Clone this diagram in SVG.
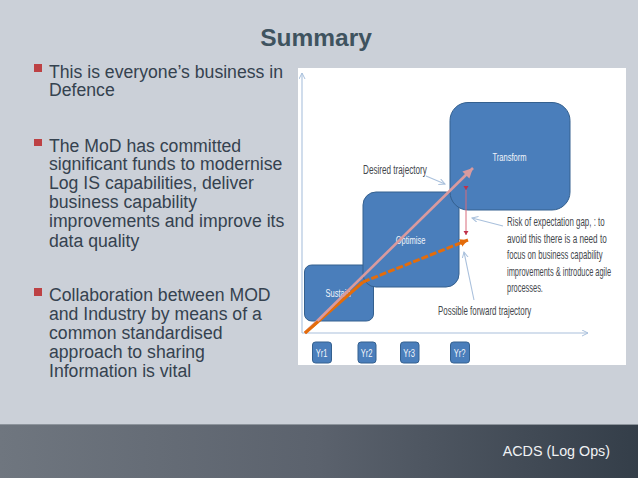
<svg xmlns="http://www.w3.org/2000/svg" width="638" height="478" viewBox="0 0 638 478">
<style>
.b{font:17.65px "Liberation Sans",Arial,sans-serif;fill:#35424f}
.t{font:24.5px "Liberation Sans",Arial,sans-serif;font-weight:bold;fill:#3f535f}
.n{fill:#4a7ebb;stroke:#34608f;stroke-width:1}
.w{font:10.5px "Liberation Sans",Arial,sans-serif;fill:#f2f5fa;text-anchor:middle}
.l{font:12px "Liberation Sans",Arial,sans-serif;fill:#44474c}
.s{fill:#bd4144}
.thin{stroke:#a9c0dc;stroke-width:1.1;fill:none}
</style>
<defs>
<linearGradient id="f" x1="0" x2="1" y1="0" y2="0"><stop offset="0" stop-color="#6f767f"/><stop offset=".5" stop-color="#5b626d"/><stop offset="1" stop-color="#343e49"/></linearGradient>
<marker id="ta" markerWidth="7" markerHeight="7" refX="6" refY="3" orient="auto" markerUnits="userSpaceOnUse"><path d="M0 0L6 3L0 6" fill="none" stroke="#a9c0dc" stroke-width="1"/></marker>
<marker id="pa" markerWidth="12" markerHeight="12" refX="10" refY="5" orient="auto" markerUnits="userSpaceOnUse"><path d="M0 0L10 5L0 10Z" fill="#d99a9e"/></marker>
<marker id="oa" markerWidth="10" markerHeight="10" refX="8" refY="4" orient="auto" markerUnits="userSpaceOnUse"><path d="M0 0L8 4L0 8Z" fill="#e46c0a"/></marker>
<marker id="ra" markerWidth="6" markerHeight="6" refX="4" refY="2.5" orient="auto" markerUnits="userSpaceOnUse"><path d="M0 0L4 2.5L0 5Z" fill="#c0304a"/></marker>
</defs>
<rect width="638" height="478" fill="#cbd0d8"/>
<rect y="424" width="638" height="54" fill="url(#f)"/>
<rect y="424" width="638" height="1" fill="#8d949c"/>
<text class="t" x="316" y="46" text-anchor="middle">Summary</text>
<rect class="s" x="34" y="64" width="8" height="8"/>
<rect class="s" x="34" y="139" width="8" height="7"/>
<rect class="s" x="34" y="288" width="8" height="8"/>
<text class="b"><tspan x="49" y="78">This is everyone’s business in</tspan><tspan x="49" y="96">Defence</tspan>
<tspan x="49" y="152">The MoD has committed</tspan><tspan x="49" y="170">significant funds to modernise</tspan><tspan x="49" y="189">Log IS capabilities, deliver</tspan><tspan x="49" y="208">business capability</tspan><tspan x="49" y="227">improvements and improve its</tspan><tspan x="49" y="247">data quality</tspan>
<tspan x="49" y="301">Collaboration between MOD</tspan><tspan x="49" y="320">and Industry by means of a</tspan><tspan x="49" y="339">common standardised</tspan><tspan x="49" y="358">approach to sharing</tspan><tspan x="49" y="377">Information is vital</tspan></text>
<text x="610" y="456" text-anchor="end" style="font:14.3px 'Liberation Sans',Arial,sans-serif;fill:#f0f2f4">ACDS (Log Ops)</text>
<rect x="298" y="68" width="328" height="297" fill="#fff"/>
<g id="sustain"><rect class="n" x="304.500" y="265" width="69" height="56" rx="7"/><text class="w" transform="translate(338 297) scale(.72 1)">Sustain</text></g>
<g id="optimise"><rect class="n" x="363" y="192" width="96" height="95" rx="13"/><text class="w" transform="translate(410.500 244) scale(.72 1)">Optimise</text></g>
<g id="transform"><rect class="n" x="450" y="102.500" width="120" height="107.500" rx="18"/><text class="w" transform="translate(509.500 161) scale(.72 1)">Transform</text></g>
<g id="yr1"><rect class="n" x="312.500" y="342" width="19" height="21" rx="3"/><text class="w" transform="translate(321.500 357) scale(.72 1)">Yr1</text></g>
<g id="yr2"><rect class="n" x="358" y="342" width="18" height="21" rx="3"/><text class="w" transform="translate(366.500 357) scale(.72 1)">Yr2</text></g>
<g id="yr3"><rect class="n" x="400.500" y="342" width="18.500" height="21" rx="3"/><text class="w" transform="translate(409 357) scale(.72 1)">Yr3</text></g>
<g id="yrq"><rect class="n" x="450.500" y="342" width="19" height="21" rx="3"/><text class="w" transform="translate(459.500 357) scale(.72 1)">Yr?</text></g>
<g id="connectors">
<path class="thin" d="M302 333V73" marker-end="url(#ta)"/>
<path class="thin" d="M302 333H588" marker-end="url(#ta)"/>
<path d="M305 333L363 282" stroke="#e46c0a" stroke-width="3" fill="none"/>
<path d="M363 282L468 240" stroke="#e46c0a" stroke-width="3" stroke-dasharray="7 2" fill="none" marker-end="url(#oa)"/>
<path d="M305 333L473 168" stroke="#d99a9e" stroke-width="2.600" fill="none" marker-end="url(#pa)"/>
<path d="M305 333L318 321.500" stroke="#e46c0a" stroke-width="3" fill="none"/>
<path d="M466 190V235" stroke="#d86a7a" stroke-width="1" fill="none" marker-start="url(#ra)" marker-end="url(#ra)"/>
<path class="thin" d="M426 176L445 184" marker-end="url(#ta)"/>
<path class="thin" d="M503 226L472 218" marker-end="url(#ta)"/>
<path class="thin" d="M474 300L464 252" marker-end="url(#ta)"/>
</g>
<text class="l" transform="translate(363 174) scale(.68 1)">Desired trajectory</text>
<text class="l" transform="translate(507 226) scale(.66 1)">Risk of expectation gap, : to</text>
<text class="l" transform="translate(507 243) scale(.68 1)">avoid this there is a need to</text>
<text class="l" transform="translate(507 259) scale(.64 1)">focus on business capability</text>
<text class="l" transform="translate(507 276) scale(.62 1)">improvements &amp; introduce agile</text>
<text class="l" transform="translate(507 292) scale(.62 1)">processes.</text>
<text class="l" transform="translate(438 315) scale(.66 1)">Possible forward trajectory</text>
</svg>
